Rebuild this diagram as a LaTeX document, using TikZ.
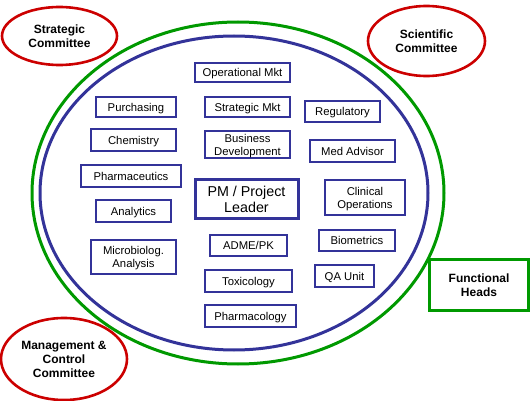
\documentclass[tikz,border=0pt]{standalone}
\usepackage{fontspec}
\setmainfont{Liberation Sans}
\usepackage{tikz}
\usetikzlibrary{shapes.geometric}
\definecolor{fhGreen}{RGB}{0,153,0}
\definecolor{pmBlue}{RGB}{51,51,153}
\definecolor{cmRed}{RGB}{204,0,0}

\begin{document}
\begin{tikzpicture}[x=1pt,y=-1pt,
  dept/.style={draw=pmBlue, line width=1.3pt, fill=white, inner sep=0pt, align=center,
    text depth=0pt, font=\fontsize{11.3}{13}\selectfont},
  oneline/.style={text height=8.1pt},
  committee/.style={ellipse, draw=cmRed, line width=2.6pt, fill=white, inner sep=0pt, align=center,
    text depth=0pt, font=\bfseries\fontsize{12}{14}\selectfont}]
\useasboundingbox (0,0) rectangle (531,401);

% rings
\draw[fhGreen, line width=3pt] (238,193) ellipse [x radius=206, y radius=171];
\draw[pmBlue, line width=3pt] (234,193) ellipse [x radius=194, y radius=157];

% committees
\node[committee, minimum width=115pt, minimum height=58pt] (strat) at (59.5,36) {Strategic\\Committee};
\node[committee, minimum width=117pt, minimum height=70pt] (scient) at (426.5,41) {Scientific\\Committee};
\node[committee, minimum width=126pt, minimum height=82pt] (mgmt) at (64,359) {Management \&\\Control\\Committee};

\node[draw=fhGreen, line width=3pt, fill=white, minimum width=99pt, minimum height=51pt, inner sep=0pt,
  align=center, text depth=0pt,
  font=\bfseries\fontsize{12}{14}\selectfont] (heads) at (479,285) {Functional\\Heads};

% centre column
\node[dept, oneline, minimum width=95pt, minimum height=19pt] (opmkt) at (242.5,72.5) {Operational Mkt};
\node[dept, oneline, minimum width=85pt, minimum height=20pt] (stmkt) at (247.5,107) {Strategic Mkt};
\node[dept, minimum width=85pt, minimum height=27pt] (busdev) at (247.5,144.5) {Business\\Development};
\node[dept, line width=3pt, minimum width=103pt, minimum height=39pt,
  font=\fontsize{14.3}{16.5}\selectfont] (pm) at (246.5,199.5) {PM / Project\\Leader};
\node[dept, oneline, minimum width=77pt, minimum height=21pt] (adme) at (248.5,245.5) {ADME/PK};
\node[dept, oneline, minimum width=87pt, minimum height=22pt] (tox) at (248.5,281) {Toxicology};
\node[dept, oneline, minimum width=91pt, minimum height=22pt] (pharmaco) at (250.5,316) {Pharmacology};

% left column
\node[dept, oneline, minimum width=80pt, minimum height=20pt] (purch) at (136,107) {Purchasing};
\node[dept, oneline, minimum width=85pt, minimum height=22pt] (chem) at (133.5,140) {Chemistry};
\node[dept, oneline, minimum width=100pt, minimum height=22pt] (pharmaceu) at (131,176) {Pharmaceutics};
\node[dept, oneline, minimum width=75pt, minimum height=22pt] (analyt) at (133.5,211) {Analytics};
\node[dept, minimum width=85pt, minimum height=34pt] (micro) at (133.5,257) {Microbiolog.\\Analysis};

% right column
\node[dept, oneline, minimum width=75pt, minimum height=21pt] (regul) at (342.5,111.5) {Regulatory};
\node[dept, oneline, minimum width=85pt, minimum height=22pt] (medadv) at (352.5,151) {Med Advisor};
\node[dept, minimum width=80pt, minimum height=35pt] (clinops) at (365,197.5) {Clinical\\Operations};
\node[dept, oneline, minimum width=76pt, minimum height=21pt] (biomet) at (357,240.5) {Biometrics};
\node[dept, oneline, minimum width=59pt, minimum height=22pt] (qa) at (344.5,276) {QA Unit};
\end{tikzpicture}
\end{document}
